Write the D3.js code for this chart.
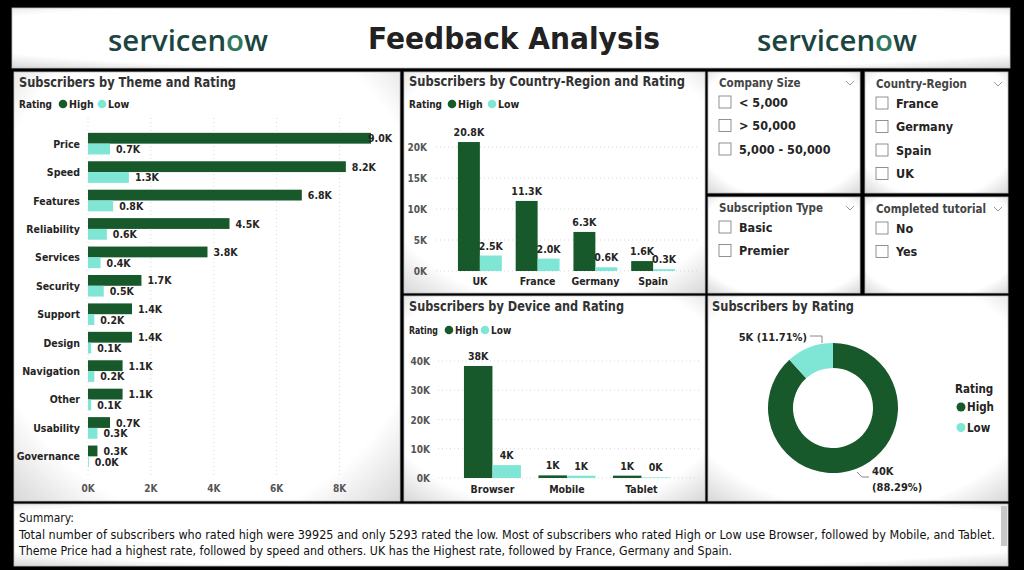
<!DOCTYPE html>
<html>
<head>
<meta charset="utf-8">
<script src="https://cdn.jsdelivr.net/npm/d3@7"></script>
<style>
  html, body { margin: 0; padding: 0; background: #000; }
  svg { display: block; }
  text { font-family: "DejaVu Sans Condensed", "DejaVu Sans", sans-serif; fill: #252423; }
</style>
</head>
<body>
<div id="dash"></div>
<script>
// ---- data ----
const ratings = ["High", "Low"];
const themes = ["Price", "Speed", "Features", "Reliability", "Services", "Security",
  "Support", "Design", "Navigation", "Other", "Usability", "Governance"];
const themeHigh = [9000, 8200, 6800, 4500, 3800, 1700, 1400, 1400, 1100, 1100, 700, 300];
const themeLow = [700, 1300, 800, 600, 400, 500, 200, 100, 200, 100, 300, 20];
const themeTicks = [0, 2000, 4000, 6000, 8000];

const countries = ["UK", "France", "Germany", "Spain"];
const countryHigh = [20800, 11300, 6300, 1600];
const countryLow = [2500, 2000, 600, 300];
const countryTicks = [0, 5000, 10000, 15000, 20000];

const devices = ["Browser", "Mobile", "Tablet"];
const deviceHigh = [38300, 900, 800];
const deviceLow = [4400, 800, 200];
const deviceTicks = [0, 10000, 20000, 30000, 40000];

const totals = [39925, 5293]; // High, Low

const slicers = [
  { title: "Company Size", items: ["< 5,000", "> 50,000", "5,000 - 50,000"] },
  { title: "Country-Region", items: ["France", "Germany", "Spain", "UK"] },
  { title: "Subscription Type", items: ["Basic", "Premier"] },
  { title: "Completed tutorial", items: ["No", "Yes"] }
];

const summary = [
  "Summary:",
  "Total number of subscribers who rated high were 39925 and only 5293 rated the low.  Most of subscribers who rated High or Low use Browser, followed by Mobile, and Tablet.",
  "Theme Price had a highest rate, followed by speed and others. UK has the Highest rate, followed by France, Germany and Spain."
];

const W = 1024, H = 570;
const color = d3.scaleOrdinal().domain(ratings).range(["#18592c", "#7fe6d5"]);
const fmtK = v => (v / 1000).toFixed(1) + "K";
const fmtK0 = v => Math.round(v / 1000) + "K";

const svg = d3.select("#dash").append("svg").attr("width", W).attr("height", H);
svg.append("rect").attr("width", W).attr("height", H).attr("fill", "#000");

// soft shading like the PBI visual containers
const defs = svg.append("defs");
const grad = defs.append("radialGradient").attr("id", "shade").attr("cx", "50%").attr("cy", "45%").attr("r", "75%");
grad.append("stop").attr("offset", "78%").attr("stop-color", "#ffffff");
grad.append("stop").attr("offset", "100%").attr("stop-color", "#d6d6d6");

function panel(x, y, w, h) {
  svg.append("rect").attr("x", x).attr("y", y).attr("width", w).attr("height", h)
    .attr("fill", "url(#shade)").attr("stroke", "#bdbdbd").attr("stroke-width", 0.8);
}

// panels
panel(12, 8, 998, 60);
panel(14, 72, 386, 429);
panel(404, 72, 301, 221);
panel(404, 296, 301, 205);
panel(708, 72, 152, 121);
panel(865, 72, 143, 121);
panel(708, 197, 152, 96);
panel(865, 197, 143, 96);
panel(708, 296, 300, 205);
panel(14, 504, 994, 62);

// ---- header ----
function logo(cx) {
  const t = svg.append("text").attr("x", cx).attr("y", 51).attr("text-anchor", "middle")
    .attr("textLength", 160).attr("lengthAdjust", "spacingAndGlyphs")
    .style("font-family", "'Open Sans', Lato, sans-serif").style("font-size", "29px")
    .style("font-weight", 600);
  t.append("tspan").text("servicen").style("fill", "#1b4540");
  t.append("tspan").text("o").style("fill", "#2f7a5c");
  t.append("tspan").text("w").style("fill", "#1b4540");
}
logo(188);
logo(837);
svg.append("text").attr("x", 514).attr("y", 49).attr("text-anchor", "middle")
  .attr("textLength", 292).attr("lengthAdjust", "spacingAndGlyphs")
  .style("font-size", "31px").style("font-weight", "bold").style("fill", "#222")
  .text("Feedback Analysis");

function title(x, y, s, len) {
  svg.append("text").attr("x", x).attr("y", y).style("font-size", "13.5px")
    .attr("textLength", len).attr("lengthAdjust", "spacingAndGlyphs")
    .style("font-weight", 600).style("fill", "#333").text(s);
}
function legend(x, y, xs, fs, rw) {
  const g = svg.append("g").attr("transform", `translate(${x},${y})`);
  g.append("text").attr("y", 4).style("font-size", fs + "px").style("font-weight", "bold")
    .attr("textLength", rw).attr("lengthAdjust", "spacingAndGlyphs").text("Rating");
  ratings.forEach((r, i) => {
    g.append("circle").attr("cx", xs[i]).attr("cy", 0).attr("r", 4.3).attr("fill", color(r));
    g.append("text").attr("x", xs[i] + 6).attr("y", 4).style("font-size", fs + "px")
      .style("font-weight", "bold").text(r);
  });
}

// ---- Theme chart (horizontal bars) ----
title(19, 87, "Subscribers by Theme and Rating", 217);
legend(19, 104, [44, 83], 10.5, 33);
{
  const x = d3.scaleLinear().domain([0, 9000]).range([88, 371]);
  const y = d3.scaleBand().domain(themes).range([130, 470]).paddingInner(0.24).paddingOuter(0.1);
  const ySub = d3.scaleBand().domain(ratings).range([0, y.bandwidth()]);
  const g = svg.append("g");
  g.selectAll(".grid").data(themeTicks).join("line")
    .attr("x1", d => x(d)).attr("x2", d => x(d)).attr("y1", 118).attr("y2", 476)
    .attr("stroke", "#d6d6d6").attr("stroke-dasharray", "1,3");
  g.selectAll(".tick").data(themeTicks).join("text")
    .attr("x", d => x(d)).attr("y", 492).attr("text-anchor", "middle")
    .style("font-size", "10px").style("font-weight", "bold").style("fill", "#555")
    .text(d => d / 1000 + "K");
  themes.forEach((t, i) => {
    const vals = [themeHigh[i], themeLow[i]];
    g.append("text").attr("x", 80).attr("y", y(t) + y.bandwidth() / 2 + 4)
      .attr("text-anchor", "end").style("font-size", "10.5px").style("font-weight", "bold").text(t);
    ratings.forEach((r, j) => {
      const yy = y(t) + ySub(r);
      g.append("rect").attr("x", x(0)).attr("y", yy)
        .attr("width", Math.max(x(vals[j]) - x(0), 0.8)).attr("height", ySub.bandwidth())
        .attr("fill", color(r));
      g.append("text").attr("x", Math.min(x(vals[j]) + 6, 368)).attr("y", yy + ySub.bandwidth() / 2 + 4)
        .style("font-size", "10.5px").style("font-weight", "bold")
        .text(fmtK(vals[j] < 50 ? 0 : vals[j]));
    });
  });
}

// ---- vertical clustered column charts ----
function columns(opt) {
  const { cats, high, low, ticks, yMax, yRange, xRange, pIn, pOut, tickX, fmt, catY, gridX } = opt;
  const y = d3.scaleLinear().domain([0, yMax]).range(yRange);
  const x0 = d3.scaleBand().domain(cats).range(xRange).paddingInner(pIn).paddingOuter(pOut);
  const x1 = d3.scaleBand().domain(ratings).range([0, x0.bandwidth()]);
  const g = svg.append("g");
  g.selectAll(".grid").data(ticks).join("line")
    .attr("x1", gridX[0]).attr("x2", gridX[1]).attr("y1", d => y(d)).attr("y2", d => y(d))
    .attr("stroke", "#d6d6d6").attr("stroke-dasharray", "1,3");
  g.selectAll(".tick").data(ticks).join("text")
    .attr("x", tickX).attr("y", d => y(d) + 4).attr("text-anchor", "end")
    .style("font-size", "10px").style("font-weight", "bold").style("fill", "#555")
    .text(d => d / 1000 + "K");
  cats.forEach((c, i) => {
    const vals = [high[i], low[i]];
    g.append("text").attr("x", x0(c) + x0.bandwidth() / 2).attr("y", catY).attr("text-anchor", "middle")
      .style("font-size", "10.5px").style("font-weight", "bold").text(c);
    ratings.forEach((r, j) => {
      const xx = x0(c) + x1(r);
      g.append("rect").attr("x", xx).attr("y", y(vals[j])).attr("width", x1.bandwidth())
        .attr("height", y(0) - y(vals[j])).attr("fill", color(r));
      g.append("text").attr("x", xx + x1.bandwidth() / 2).attr("y", y(vals[j]) - 6)
        .attr("text-anchor", "middle").style("font-size", "10.5px").style("font-weight", "bold")
        .text(fmt(vals[j]));
    });
  });
}

title(409, 86, "Subscribers by Country-Region and Rating", 276);
legend(409, 104, [43, 83], 10.5, 33);
columns({
  cats: countries, high: countryHigh, low: countryLow, ticks: countryTicks,
  yMax: 20000, yRange: [271, 147], xRange: [451, 682], pIn: 0.24, pOut: 0.12,
  tickX: 427, fmt: fmtK, catY: 285, gridX: [436, 700]
});

title(409, 311, "Subscribers by Device and Rating", 215);
legend(409, 330, [40, 76], 10, 29);
columns({
  cats: devices, high: deviceHigh, low: deviceLow, ticks: deviceTicks,
  yMax: 40000, yRange: [478, 361], xRange: [441.6, 692.3], pIn: 0.235, pOut: 0.3,
  tickX: 430, fmt: fmtK0, catY: 493, gridX: [438, 700]
});

// ---- slicers ----
const slicerPos = [[719, 83], [876, 84], [719, 208], [876, 209]];
slicers.forEach((s, i) => {
  const [sx, sy] = slicerPos[i];
  const w = i % 2 === 0 ? 141 : 132;
  svg.append("text").attr("x", sx).attr("y", sy + 4).style("font-size", "11.5px")
    .style("font-weight", 600).style("fill", "#444").text(s.title);
  svg.append("path").attr("d", `M${sx + w - 14},${sy - 2} l4,4 l4,-4`)
    .attr("fill", "none").attr("stroke", "#999").attr("stroke-width", 1);
  s.items.forEach((it, k) => {
    const cy = sy + 19 + k * 23.5;
    svg.append("rect").attr("x", sx).attr("y", cy - 6).attr("width", 12).attr("height", 12)
      .attr("fill", "#fff").attr("stroke", "#777").attr("stroke-width", 0.8);
    svg.append("text").attr("x", sx + 20).attr("y", cy + 4.5).style("font-size", "12.5px")
      .style("font-weight", "bold").text(it);
  });
});

// ---- donut ----
title(712, 311, "Subscribers by Rating", 142);
{
  const cx = 833, cy = 408;
  const pie = d3.pie().sort(null).value(d => d)(totals);
  const arc = d3.arc().innerRadius(40).outerRadius(65);
  const g = svg.append("g").attr("transform", `translate(${cx},${cy})`);
  g.selectAll("path").data(pie).join("path").attr("d", arc)
    .attr("fill", (d, i) => color(ratings[i]));
  const sum = d3.sum(totals);
  const pct = v => (v / sum * 100).toFixed(2) + "%";
  // leader lines
  svg.append("path").attr("d", "M810,336 L822,336 L822,343").attr("fill", "none").attr("stroke", "#888");
  svg.append("path").attr("d", "M857,472 L862,477 L869,477").attr("fill", "none").attr("stroke", "#888");
  svg.append("text").attr("x", 807).attr("y", 341).attr("text-anchor", "end")
    .style("font-size", "11px").style("font-weight", "bold").text(fmtK0(totals[1]) + " (" + pct(totals[1]) + ")");
  svg.append("text").attr("x", 872).attr("y", 475)
    .style("font-size", "11px").style("font-weight", "bold").text(fmtK0(totals[0]));
  svg.append("text").attr("x", 872).attr("y", 491)
    .style("font-size", "11px").style("font-weight", "bold").text("(" + pct(totals[0]) + ")");
  // legend
  svg.append("text").attr("x", 955).attr("y", 393).style("font-size", "11.5px")
    .style("font-weight", "bold").text("Rating");
  ratings.forEach((r, i) => {
    svg.append("circle").attr("cx", 961).attr("cy", 407 + i * 20.5).attr("r", 4.5).attr("fill", color(r));
    svg.append("text").attr("x", 967).attr("y", 411 + i * 20.5).style("font-size", "11.5px")
      .style("font-weight", "bold").text(r);
  });
}

// ---- summary ----
svg.append("rect").attr("x", 1001).attr("y", 506).attr("width", 6).attr("height", 40).attr("fill", "#c8c8c8");
summary.forEach((s, i) => {
  const t = svg.append("text").attr("x", 19).attr("y", 522 + i * 16.5)
    .style("font-size", "12px").style("fill", "#111").text(s);
  if (i === 1) t.attr("textLength", 976).attr("lengthAdjust", "spacingAndGlyphs");
  if (i === 2) t.attr("textLength", 713).attr("lengthAdjust", "spacingAndGlyphs");
});
</script>
</body>
</html>
